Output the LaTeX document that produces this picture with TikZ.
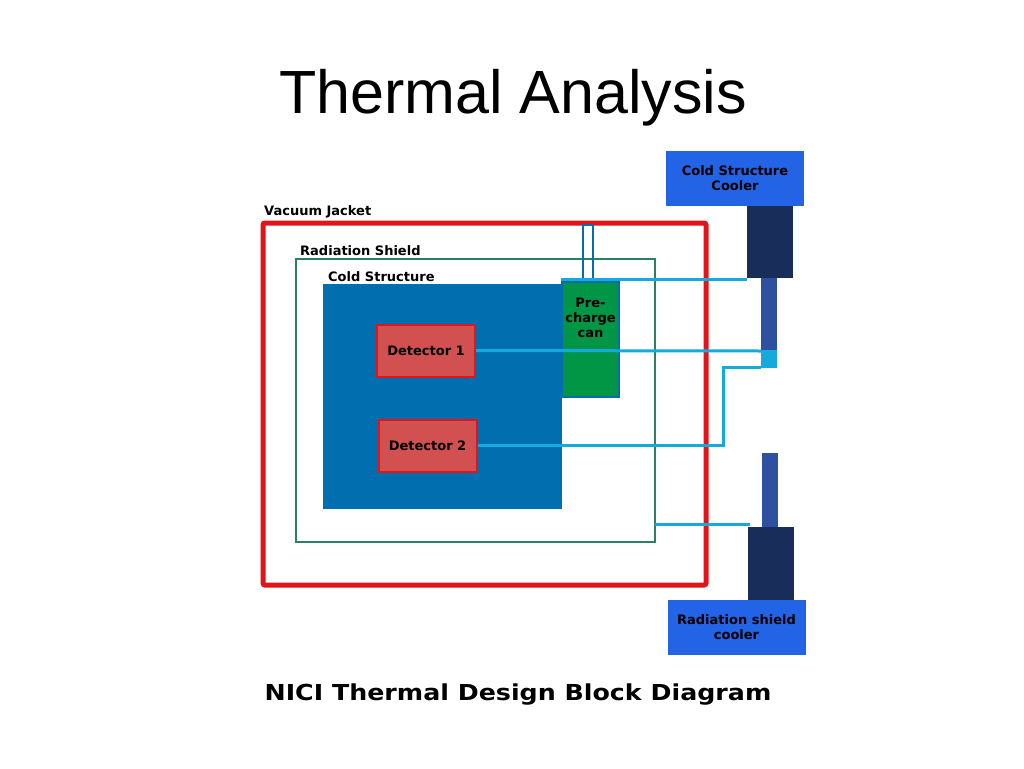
\documentclass[tikz,border=0pt]{standalone}
\usepackage{fontspec}
\setmainfont{Liberation Sans}
\newfontfamily\heavyfont{DejaVu Sans}
\usetikzlibrary{positioning}
\definecolor{jacketred}{RGB}{225,20,25}
\definecolor{shieldgreen}{RGB}{40,130,95}
\definecolor{coldblue}{RGB}{0,110,175}
\definecolor{cangreen}{RGB}{0,150,70}
\definecolor{detred}{RGB}{210,80,80}
\definecolor{coolerblue}{RGB}{35,100,230}
\definecolor{headdark}{RGB}{25,45,90}
\definecolor{stemblue}{RGB}{45,80,160}
\definecolor{linkcyan}{RGB}{20,170,220}
\tikzset{
  lbl/.style={font=\heavyfont\fontsize{13}{15}\selectfont\bfseries, text=black},
  det/.style={draw=jacketred, line width=2pt, fill=detred, minimum width=98pt, minimum height=52pt, lbl},
  cooler/.style={fill=coolerblue, minimum width=138pt, minimum height=55pt, align=center, lbl},
  link/.style={linkcyan, line width=3pt},
}
\begin{document}
\begin{tikzpicture}[x=1pt,y=-1pt]
\useasboundingbox (0,0) rectangle (1024,768);

\node[font=\fontsize{61}{70}\selectfont] (title) at (513,98) {Thermal Analysis};

% enclosures
\draw[jacketred, line width=5pt, rounded corners=2pt] (263,223) rectangle (706,585);
\node[lbl, anchor=south west, inner sep=0pt] (vj) at (264,218) {Vacuum Jacket};
\draw[shieldgreen, line width=1.8pt] (296,259) rectangle (655,542);
\node[lbl, anchor=south west, inner sep=0pt] (rs) at (300,256) {Radiation Shield};
\fill[coldblue] (323,284) rectangle (562,509);
\node[lbl, anchor=south west, inner sep=0pt] (cs) at (328,282) {Cold Structure};

% pre-charge can
\draw[coldblue, line width=1.5pt] (583,225) rectangle (593,282);
\draw[coldblue, line width=1.5pt, fill=cangreen] (562,282) rectangle (619,397);
\node[lbl, align=center, anchor=north] (can) at (590.5,294) {Pre-\\charge\\can};

% detectors
\node[det] (det1) at (426,350.5) {Detector 1};
\node[det] (det2) at (427.5,445.5) {Detector 2};

% cold structure cooler
\node[cooler] (csc) at (735,178.5) {Cold Structure\\Cooler};
\fill[headdark] (747,206) rectangle (793,278);
\fill[stemblue] (761,278) rectangle (777,350);
\fill[linkcyan] (761,350) rectangle (777,368);
\coordinate (head) at (747,279);
\coordinate (tip1) at (761,351);
\coordinate (tip2) at (761,367);

% radiation shield cooler
\node[cooler] (rsc) at (736.5,627.5) {Radiation shield\\cooler};
\fill[stemblue] (762,453) rectangle (778,527);
\fill[headdark] (748,527) rectangle (794,600);
\coordinate (shieldtap) at (655,524);
\coordinate (rshead) at (750,524);

% thermal links
\draw[link] (561,279) -- (head);
\draw[link] (det1.east) -- (tip1);
\draw[link] (det2.east) -- (723,445.5) |- (tip2);
\draw[link] (shieldtap) -- (rshead);

\node[font=\heavyfont\fontsize{22}{26}\selectfont\bfseries, xscale=1.15, transform shape] (caption) at (518,695) {NICI Thermal Design Block Diagram};
\end{tikzpicture}
\end{document}
